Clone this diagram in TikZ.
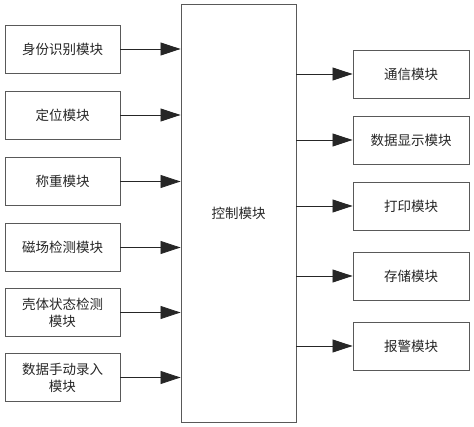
\documentclass[tikz,border=0pt]{standalone}
\usepackage{fontspec}
\newfontfamily\cjk{Noto Sans CJK SC}
\usetikzlibrary{arrows.meta}
\begin{document}
\begin{tikzpicture}[x=1pt,y=-1pt,
  box/.style={draw=black!65,line width=0.9pt,minimum width=115pt,minimum height=48pt,inner sep=0pt,align=center,font=\cjk\fontsize{13.5}{17}\selectfont,text=black!85},
  arr/.style={draw=black!85,line width=0.8pt,-{Triangle[length=20pt,width=13pt]}}]
\useasboundingbox (0,0) rectangle (474,427);
\node[box,minimum height=418pt] (ctrl) at (238.5,213) {控制模块};
\node[box] (l1) at (62.5,49) {身份识别模块};
\node[box] (l2) at (62.5,115) {定位模块};
\node[box] (l3) at (62.5,181.5) {称重模块};
\node[box] (l4) at (62.5,247.5) {磁场检测模块};
\node[box] (l5) at (62.5,312.5) {壳体状态检测\\模块};
\node[box] (l6) at (62.5,377.5) {数据手动录入\\模块};
\node[box,minimum width=116pt] (r1) at (411,74) {通信模块};
\node[box,minimum width=116pt] (r2) at (411,140) {数据显示模块};
\node[box,minimum width=116pt] (r3) at (411,206) {打印模块};
\node[box,minimum width=116pt] (r4) at (411,276) {存储模块};
\node[box,minimum width=116pt] (r5) at (411,346) {报警模块};
\foreach \n in {l1,l2,l3,l4,l5,l6}{\draw[arr] (\n.east) -- (ctrl.west |- \n.east);}
\foreach \n in {r1,r2,r3,r4,r5}{\draw[arr] (ctrl.east |- \n.west) -- (\n.west);}
\end{tikzpicture}
\end{document}
